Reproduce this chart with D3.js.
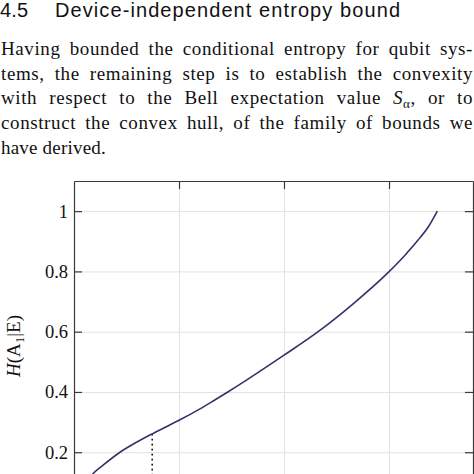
<!DOCTYPE html>
<html>
<head>
<meta charset="utf-8">
<script src="https://cdn.jsdelivr.net/npm/d3@7"></script>
<style>
  body { margin: 0; background: #fff; }
  svg { display: block; }
  .page { font-family: "Liberation Serif", "DejaVu Serif", serif; fill: #111; }
</style>
</head>
<body>
<div class="canvas"></div>
<script>
// data
const sValues = [2.018, 2.037, 2.056, 2.0876, 2.119, 2.149, 2.175, 2.200, 2.240, 2.265, 2.293, 2.330, 2.400, 2.465, 2.530, 2.6006, 2.630, 2.655, 2.675, 2.692];
const hValues = [0.085, 0.130, 0.158, 0.200, 0.233, 0.261, 0.284, 0.306, 0.344, 0.370, 0.400, 0.441, 0.522, 0.600, 0.690, 0.800, 0.853, 0.903, 0.948, 1.000];
const markerS = [2.149];
const markerH = [0.261];
const xTicks = [2.2, 2.4, 2.6];
const yTicks = [0.2, 0.4, 0.6, 0.8, 1];
const yTickLabels = ['0.2', '0.4', '0.6', '0.8', '1'];

const svg = d3.select('.canvas')
  .append('svg')
    .attr('width', 474)
    .attr('height', 474);

// heading
const head = svg.append('g')
  .attr('font-family', '"Liberation Sans", "DejaVu Sans", sans-serif')
  .attr('font-size', 20)
  .attr('fill', '#111');
head.append('text').attr('x', 0).attr('y', 16.5).attr('textLength', 28).text('4.5');
head.append('text').attr('x', 55).attr('y', 16.5).attr('textLength', 345).text('Device-independent entropy bound');

// paragraph, justified by word spacing
const para = svg.append('g').attr('class', 'page')
  .attr('font-size', 19);
const lines = [
  {y: 55, w: 472, t: 'Having bounded the conditional entropy for qubit sys-'},
  {y: 79.5, w: 472, t: 'tems, the remaining step is to establish the convexity'},
  {y: 104, w: 472, t: null},
  {y: 129, w: 472, t: 'construct the convex hull, of the family of bounds we'},
  {y: 153.5, w: 0, t: 'have derived.'}
];
lines.forEach(l => {
  const txt = para.append('text').attr('x', 1).attr('y', l.y)
    .attr('letter-spacing', l.w ? 0.6 : 0.2);
  if (l.t) {
    txt.text(l.t);
  } else {
    txt.append('tspan').text('with respect to the Bell expectation value ');
    txt.append('tspan').attr('font-style', 'italic').text('S');
    txt.append('tspan').attr('font-size', 13).attr('dy', 4).text('α');
    txt.append('tspan').attr('dy', -4).text(', or to');
  }
  if (l.w) {
    const natural = txt.node().getComputedTextLength();
    const gaps = txt.text().split(' ').length - 1;
    txt.attr('word-spacing', Math.max(0, (l.w - natural) / gaps));
  }
});

// chart
const margin = {top: 181, left: 74};
const graphWidth = 399;
const graphHeight = 331.5;
const graph = svg.append('g')
  .attr('transform', `translate(${margin.left}, ${margin.top})`);

const x = d3.scaleLinear().domain([2, 2.76]).range([0, graphWidth]);
const y = d3.scaleLinear().domain([0, 1.1]).range([graphHeight, 0]);

// grid
graph.append('g')
  .call(d3.axisBottom(x).tickValues(xTicks).tickSize(graphHeight).tickFormat(''))
  .call(g => g.select('.domain').remove())
  .call(g => g.selectAll('line').attr('stroke', '#e2e2e2'));
graph.append('g')
  .call(d3.axisRight(y).tickValues(yTicks).tickSize(graphWidth).tickFormat(''))
  .call(g => g.select('.domain').remove())
  .call(g => g.selectAll('line').attr('stroke', '#e2e2e2'));

// axes with inward ticks
const axisColor = '#3a3a3a';
const yAxis = graph.append('g')
  .call(d3.axisLeft(y).tickValues(yTicks).tickSizeInner(-8).tickSizeOuter(0).tickPadding(6)
    .tickFormat((d, i) => yTickLabels[i]));
yAxis.selectAll('text')
  .attr('font-family', '"Liberation Serif", "DejaVu Serif", serif')
  .attr('font-size', 18.5)
  .attr('fill', '#111');
const yAxisRight = graph.append('g')
  .attr('transform', `translate(${graphWidth}, 0)`)
  .call(d3.axisRight(y).tickValues(yTicks).tickSizeInner(-8).tickSizeOuter(0).tickFormat(''));
const xAxisTop = graph.append('g')
  .call(d3.axisTop(x).tickValues(xTicks).tickSizeInner(-8).tickSizeOuter(0).tickFormat(''));
const xAxisBottom = graph.append('g')
  .attr('transform', `translate(0, ${graphHeight})`)
  .call(d3.axisBottom(x).tickValues(xTicks).tickSizeInner(-8).tickSizeOuter(0).tickFormat(''));
[yAxis, yAxisRight, xAxisTop, xAxisBottom].forEach(a => {
  a.select('.domain').attr('stroke', axisColor).attr('stroke-width', 1.2);
  a.selectAll('line').attr('stroke', axisColor).attr('stroke-width', 1.2);
});

// dotted marker
graph.append('line')
  .attr('x1', x(markerS[0])).attr('x2', x(markerS[0]))
  .attr('y1', y(markerH[0])).attr('y2', y(0))
  .attr('stroke', '#111')
  .attr('stroke-width', 1.6)
  .attr('stroke-dasharray', '1.6,3.4');

// bound curve
const line = d3.line()
  .x((d, i) => x(sValues[i]))
  .y(d => y(d))
  .curve(d3.curveMonotoneX);
graph.append('path')
  .datum(hValues)
  .attr('d', line)
  .attr('fill', 'none')
  .attr('stroke', '#3d2d6c')
  .attr('stroke-width', 1.6);

// y label
const ylab = svg.append('text')
  .attr('class', 'page')
  .attr('transform', 'translate(20, 346) rotate(-90)')
  .attr('text-anchor', 'middle')
  .attr('font-size', 19);
ylab.append('tspan').attr('font-style', 'italic').text('H');
ylab.append('tspan').text('(A');
ylab.append('tspan').attr('font-size', 13).attr('dy', 4).text('1');
ylab.append('tspan').attr('dy', -4).text('|E)');
</script>
</body>
</html>
